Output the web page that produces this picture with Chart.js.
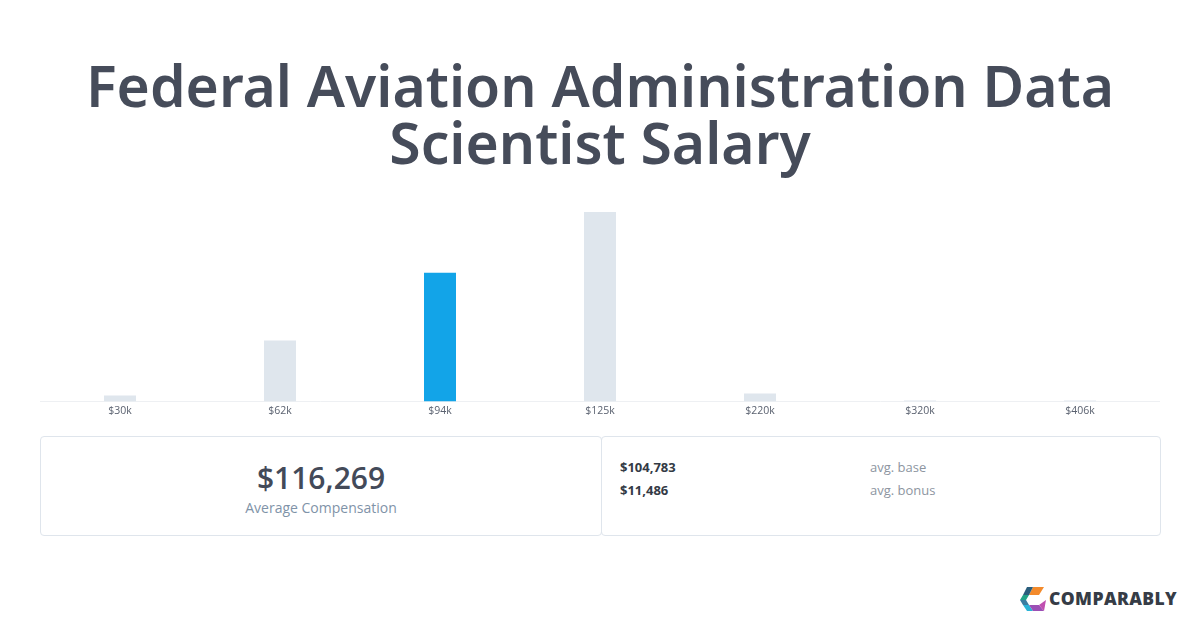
<!DOCTYPE html>
<html>
<head>
<meta charset="utf-8">
<script src="https://cdn.jsdelivr.net/npm/chart.js@4"></script>
<style>
  html,body{margin:0;padding:0;background:#fff;width:1200px;height:630px;overflow:hidden;font-family:"Open Sans",sans-serif;}
  #title{position:absolute;left:0;top:57px;width:1200px;text-align:center;font-family:"Noto Sans",sans-serif;font-weight:600;font-size:57px;line-height:57px;color:#464c5a;}
  #wrap{position:absolute;left:40px;top:212px;width:1120px;height:208px;}
  .box{position:absolute;top:436px;height:100px;border:1px solid #dfe5ec;border-radius:4px;box-sizing:border-box;}
  #b1{left:40px;width:562px;}
  #b2{left:601px;width:560px;}
  #avg{position:absolute;left:0;width:100%;top:20px;text-align:center;font-size:30px;font-weight:600;color:#434a59;}
  #avgl{position:absolute;left:0;width:100%;top:61px;text-align:center;font-size:14px;color:#7f93a8;}
  .v{position:absolute;left:18px;font-size:13px;font-weight:700;color:#333a45;}
  .l{position:absolute;left:268px;font-size:13px;color:#8d959f;}
  #logo{position:absolute;left:1020px;top:586px;}
  #logot{position:absolute;left:1049px;top:586px;font-family:"Open Sans",sans-serif;font-weight:800;font-size:17.5px;color:#363c46;letter-spacing:0.4px;}
</style>
</head>
<body>
<div id="title">Federal Aviation Administration Data<br>Scientist Salary</div>
<div id="wrap"><canvas id="c"></canvas></div>
<div class="box" id="b1"><div id="avg">$116,269</div><div id="avgl">Average Compensation</div></div>
<div class="box" id="b2">
  <div class="v" style="top:21px">$104,783</div><div class="l" style="top:21px">avg. base</div>
  <div class="v" style="top:44px">$11,486</div><div class="l" style="top:44px">avg. bonus</div>
</div>
<svg id="logo" width="26" height="26" viewBox="0 0 26 26">
  <polygon points="13,1 24,1 19,9 9,9" fill="#f38a2b"/>
  <polygon points="7,1 13,1 9,9 3,9" fill="#2a5d7c"/>
  <polygon points="3,9 9,9 6,14 0,14" fill="#22a387"/>
  <polygon points="0,14 6,14 9,19 3,19" fill="#3b7ea1"/>
  <polygon points="3,19 9,19 13,25 7,25" fill="#2bb3d6"/>
  <polygon points="9,19 19,19 24,25 13,25" fill="#9b4fb5"/>
  <polygon points="19,19 26,14 24,25" fill="#c04fb0"/>
</svg>
<div id="logot">COMPARABLY</div>
<script>
const categories = ["$30k","$62k","$94k","$125k","$220k","$320k","$406k"];
const counts = [6, 61, 129, 190, 8, 1, 1];
const highlightIndex = 2;
const barColors = categories.map((c,i)=> i===highlightIndex ? "#12a4e8" : "#dfe6ed");

new Chart(document.getElementById("c"), {
  type: "bar",
  data: { labels: categories, datasets: [{ data: counts, backgroundColor: barColors, borderWidth: 0, barPercentage: 0.2, categoryPercentage: 1 }] },
  options: {
    responsive: true, maintainAspectRatio: false, animation: false,
    layout: { padding: 0 },
    plugins: { legend: { display: false }, tooltip: { enabled: false } },
    scales: {
      y: { display: false, min: 0, max: 190 },
      x: {
        grid: { display: false, drawTicks: false },
        border: { display: true, color: "#eef0f3", width: 1 },
        ticks: { color: "#5b6270", font: { family: "Open Sans", size: 10.5 }, padding: 3 }
      }
    }
  }
});
</script>
</body>
</html>
